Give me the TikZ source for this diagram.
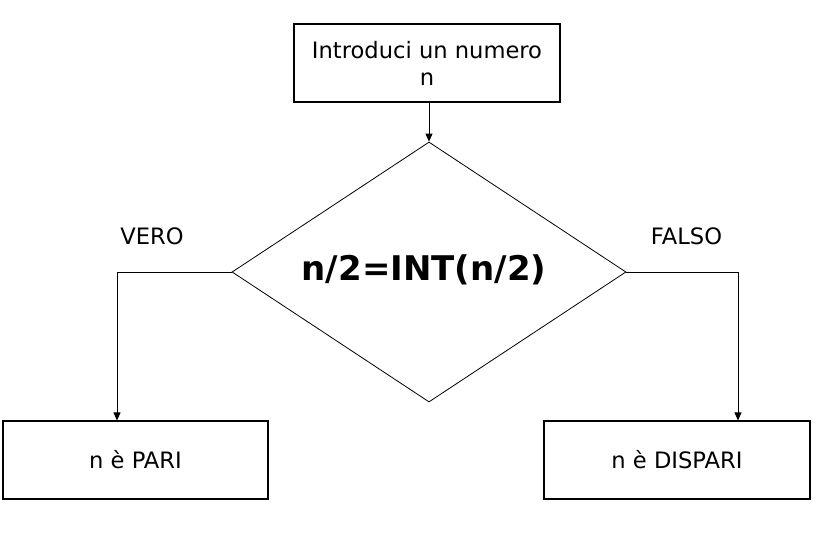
\documentclass[tikz,border=0pt]{standalone}
\usepackage{fontspec}
\setmainfont{DejaVu Sans}
\usetikzlibrary{arrows.meta,shapes.geometric}
\tikzset{
  box/.style={draw, line width=1.1pt, minimum width=266pt, minimum height=78pt, inner sep=0pt, align=center, font=\fontsize{22.6}{27}\selectfont},
  cond/.style={draw, line width=0.8pt, diamond, minimum width=394pt, minimum height=260pt, inner sep=0pt},
  lbl/.style={font=\fontsize{22.6}{26}\selectfont, inner sep=0pt},
  conn/.style={line width=0.9pt, -{Triangle[width=7pt,length=8pt]}}
}
\begin{document}
\begin{tikzpicture}[x=1pt,y=-1pt]
\useasboundingbox (0,0) rectangle (831,543);
\node[box] (start) at (427,63) {Introduci un numero\\n};
\node[cond, shape aspect=1.515] (test) at (429,272) {};
\node[font=\fontsize{34}{40}\selectfont\bfseries, inner sep=0pt] (testtext) at (424,270) {n/2=INT(n/2)};
\node[box, minimum width=265pt] (pari) at (135.5,460) {n è PARI};
\node[box, minimum width=266pt] (dispari) at (677,460) {n è DISPARI};
\node[lbl] (vero) at (152,236) {VERO};
\node[lbl] (falso) at (686.5,236) {FALSO};
\draw[conn] (start.south -| test.north) -- (test.north);
\draw[conn] (test.west) -| (pari.north -| 117,0);
\draw[conn] (test.east) -| (dispari.north -| 738,0);
\end{tikzpicture}
\end{document}
